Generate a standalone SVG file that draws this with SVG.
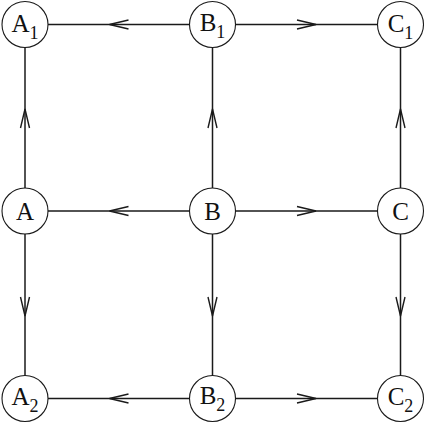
<svg xmlns="http://www.w3.org/2000/svg" width="425" height="425" viewBox="0 0 425 425">
<style>
.edge{stroke:#1a1a1a;stroke-width:1.5;fill:none}
.head{stroke:#1a1a1a;stroke-width:1.4;fill:none;stroke-linejoin:miter}
.node circle{fill:#fff;stroke:#1a1a1a;stroke-width:1.1}
.node text{font-family:"Liberation Serif","Times New Roman",serif;font-size:25px;fill:#111;text-anchor:middle}
.sub{font-size:18px}
</style>
<rect width="425" height="425" fill="#fff"/>
<g id="connectors">
<line class="edge" x1="25" y1="24.5" x2="400.5" y2="24.5"/>
<line class="edge" x1="25" y1="211" x2="400.5" y2="211"/>
<line class="edge" x1="25" y1="398.5" x2="400.5" y2="398.5"/>
<line class="edge" x1="25" y1="24.5" x2="25" y2="398.5"/>
<line class="edge" x1="212.5" y1="24.5" x2="212.5" y2="398.5"/>
<line class="edge" x1="400.5" y1="24.5" x2="400.5" y2="398.5"/>
<polyline class="head" points="128.5,20 109.5,24.5 128.5,29"/>
<polyline class="head" points="128.5,206.5 109.5,211 128.5,215.5"/>
<polyline class="head" points="128.5,394 109.5,398.5 128.5,403"/>
<polyline class="head" points="297,20 316,24.5 297,29"/>
<polyline class="head" points="297,206.5 316,211 297,215.5"/>
<polyline class="head" points="297,394 316,398.5 297,403"/>
<polyline class="head" points="20.5,128 25,109 29.5,128"/>
<polyline class="head" points="208,128 212.5,109 217,128"/>
<polyline class="head" points="396,128 400.5,109 405,128"/>
<polyline class="head" points="20.5,297 25,316 29.5,297"/>
<polyline class="head" points="208,297 212.5,316 217,297"/>
<polyline class="head" points="396,297 400.5,316 405,297"/>
</g>
<g id="A1" class="node"><circle cx="25" cy="24.5" r="23"/><text x="25" y="31.5">A<tspan class="sub" dy="7">1</tspan></text></g>
<g id="B1" class="node"><circle cx="212.5" cy="24.5" r="23"/><text x="212.5" y="31">B<tspan class="sub" dy="7">1</tspan></text></g>
<g id="C1" class="node"><circle cx="400.5" cy="24.5" r="23"/><text x="400.5" y="31.5">C<tspan class="sub" dy="7">1</tspan></text></g>
<g id="A" class="node"><circle cx="25" cy="211" r="23"/><text x="25" y="219.5">A</text></g>
<g id="B" class="node"><circle cx="212.5" cy="211" r="23"/><text x="212.5" y="219.5">B</text></g>
<g id="C" class="node"><circle cx="400.5" cy="211" r="23"/><text x="400.5" y="219.5">C</text></g>
<g id="A2" class="node"><circle cx="25" cy="398.5" r="23"/><text x="25" y="404.5">A<tspan class="sub" dy="7">2</tspan></text></g>
<g id="B2" class="node"><circle cx="212.5" cy="398.5" r="23"/><text x="212.5" y="403.5">B<tspan class="sub" dy="7">2</tspan></text></g>
<g id="C2" class="node"><circle cx="400.5" cy="398.5" r="23"/><text x="400.5" y="405">C<tspan class="sub" dy="7">2</tspan></text></g>
</svg>
